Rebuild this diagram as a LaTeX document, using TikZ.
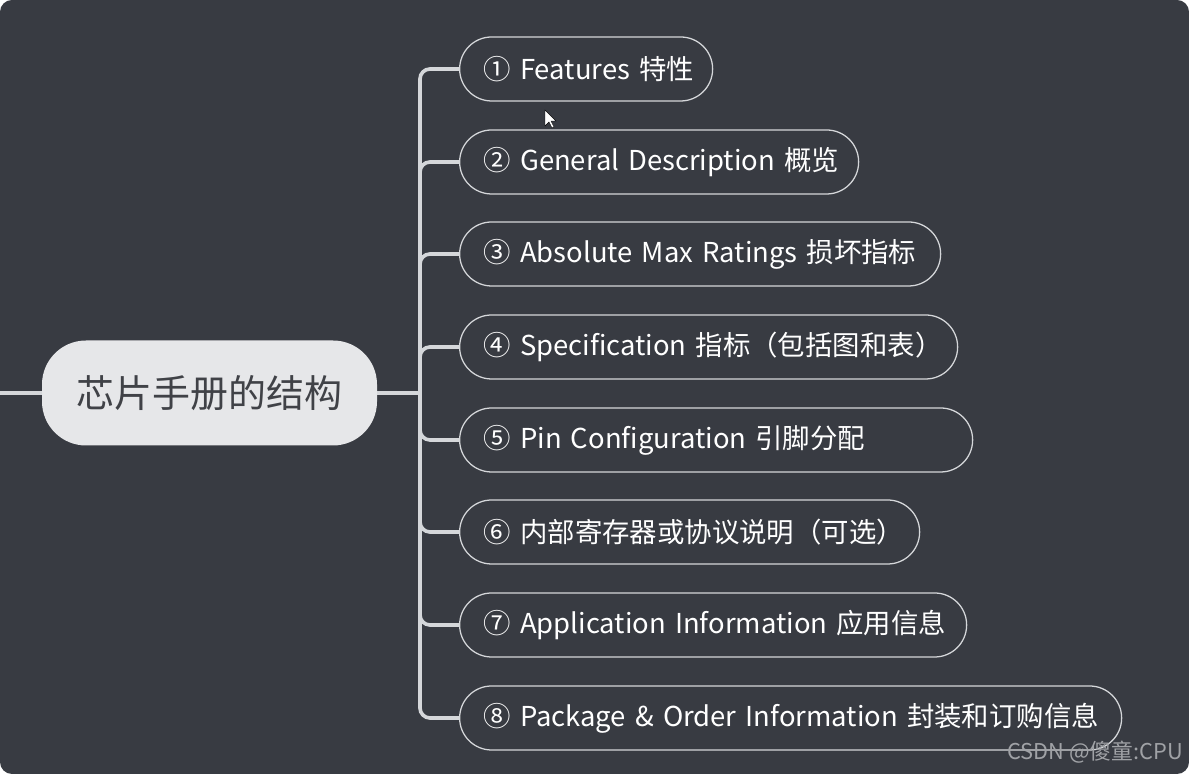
\documentclass[tikz,border=0pt]{standalone}
\usepackage{fontspec}
\setmainfont{Noto Sans CJK SC}
\usetikzlibrary{positioning, calc}
\definecolor{winbg}{HTML}{383B42}
\definecolor{linegray}{HTML}{D5D7DA}
\definecolor{rootfill}{HTML}{E6E7E9}
\definecolor{roottext}{HTML}{404247}
\definecolor{markgray}{HTML}{A0A2A6}

\begin{document}
\begin{tikzpicture}[
    root/.style={rectangle, rounded corners=1.1cm, fill=rootfill,
                 minimum width=8.375cm, minimum height=2.625cm,
                 text=roottext, font=\fontsize{27}{32}\selectfont},
    topic/.style={rectangle, rounded corners=0.8cm, draw=linegray, line width=0.9pt,
                  minimum height=1.6cm, inner xsep=0.6cm, anchor=west,
                  text width=#1, align=left, text=white,
                  font=\fontsize{19.5}{24}\selectfont},
    branch/.style={draw=linegray, line width=2.6pt, rounded corners=0.25cm},
]
% window
\fill[white] (0,0) rectangle (29.725,19.35);
\fill[winbg, rounded corners=0.3cm] (0,0) rectangle (29.725,19.35);
\useasboundingbox (0,0) rectangle (29.725,19.35);

\node[root] (chip) at (5.2375,9.525) {芯片手册的结构};

\node[topic=5.125cm]  (feat)  at (11.475,17.625) {\mbox{① Features 特性}};
\node[topic=8.775cm]  (desc)  at (11.475,15.3)   {\mbox{② General Description 概览}};
\node[topic=10.825cm] (absmax) at (11.475,13.0)  {\mbox{③ Absolute Max Ratings 损坏指标}};
\node[topic=11.25cm]  (spec)  at (11.475,10.675) {\mbox{④ Specification 指标（包括图和表）}};
\node[topic=11.625cm] (pins)  at (11.475,8.35)   {\mbox{⑤ Pin Configuration 引脚分配}};
\node[topic=10.3cm]   (regs)  at (11.475,6.05)   {\mbox{⑥ 内部寄存器或协议说明（可选）}};
\node[topic=11.475cm] (app)   at (11.475,3.725)  {\mbox{⑦ Application Information 应用信息}};
\node[topic=15.35cm]  (pkg)   at (11.475,1.4)    {\mbox{⑧ Package \& Order Information 封装和订购信息}};

% connectors
\coordinate (inlet) at (0,9.525);
\coordinate (hub) at (10.5,9.525);
\draw[branch] (inlet) -- (chip.west);
\draw[branch] (chip.east) -- (hub);
\foreach \t in {feat, desc, absmax, spec, pins, regs, app, pkg}
    \draw[branch] (hub) |- (\t.west);

% mouse pointer
\draw[fill=white, draw=black, line width=0.3pt, shift={(13.625,16.6)}, scale=0.025]
    (0,0) -- (0,-16) -- (4,-12) -- (7,-18) -- (9,-17) -- (6,-11) -- (11,-11) -- cycle;

% watermark
\node[anchor=east, text=markgray, inner sep=0pt, font=\fontsize{15.5}{18}\selectfont]
    (mark) at (29.575,0.55) {CSDN @傻童:CPU};
\end{tikzpicture}
\end{document}
